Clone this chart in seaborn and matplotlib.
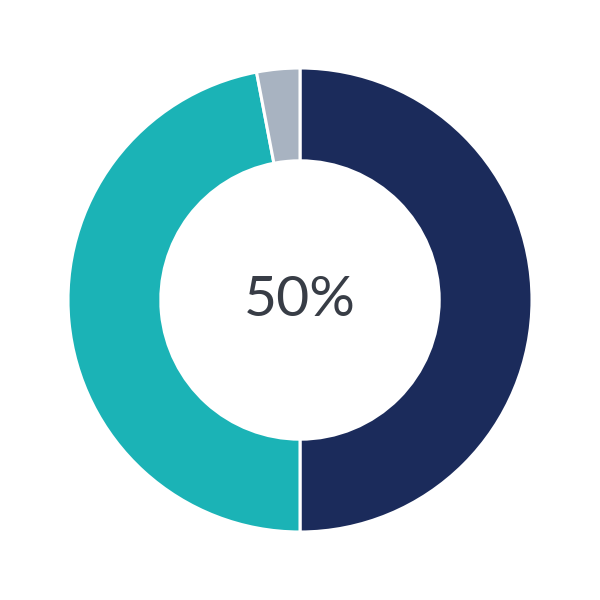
import matplotlib
matplotlib.use("Agg")
import matplotlib.pyplot as plt
import seaborn as sns

# data
labels = ["Navy", "Gray", "Teal"]
values = [50, 3, 47]
colors = ["#1b2b5b", "#a8b3c1", "#1bb3b6"]
center_label = "50%"

sns.set_theme(style="white")
plt.rcParams['font.family'] = ['Lato', 'DejaVu Sans']

fig = plt.figure(figsize=(6, 6), dpi=100)
ax = fig.add_axes([0, 0, 1, 1])

# clockwise from top: navy on right, then teal, gray small slice near top
ax.pie([values[0], values[2], values[1]],
       colors=[colors[0], colors[2], colors[1]],
       startangle=90, counterclock=False, radius=1,
       wedgeprops=dict(width=0.4, edgecolor="white", linewidth=2.2))

ax.text(0, 0, center_label, ha="center", va="center",
        fontsize=41, color="#383d46")

lim = 300 / 232
ax.set_xlim(-lim, lim)
ax.set_ylim(-lim, lim)
ax.set_aspect("equal")
ax.axis("off")

plt.savefig("out.png", dpi=100)
